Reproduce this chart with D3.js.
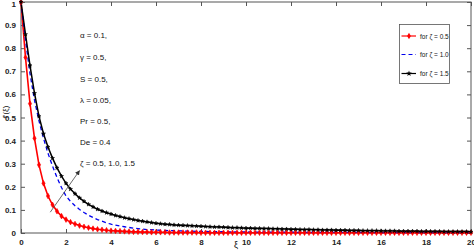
<!DOCTYPE html>
<html><head><meta charset="utf-8">
<script src="https://cdn.jsdelivr.net/npm/d3@7"></script>
<style>body{margin:0;background:#fff}svg{display:block;font-family:Arial,"Liberation Sans",sans-serif}</style>
</head><body>
<script>
const xi = [0,0.2,0.4,0.6,0.8,1,1.2,1.4,1.6,1.8,2,2.2,2.4,2.6,2.8,3,3.2,3.4,3.6,3.8,4,4.2,4.4,4.6,4.8,5,5.2,5.4,5.6,5.8,6,6.2,6.4,6.6,6.8,7,7.2,7.4,7.6,7.8,8,8.2,8.4,8.6,8.8,9,9.2,9.4,9.6,9.8,10,10.2,10.4,10.6,10.8,11,11.2,11.4,11.6,11.8,12,12.2,12.4,12.6,12.8,13,13.2,13.4,13.6,13.8,14,14.2,14.4,14.6,14.8,15,15.2,15.4,15.6,15.8,16,16.2,16.4,16.6,16.8,17,17.2,17.4,17.6,17.8,18,18.2,18.4,18.6,18.8,19,19.2,19.4,19.6,19.8,20];
const zeta05 = [1.000,0.760,0.560,0.410,0.295,0.215,0.160,0.122,0.094,0.073,0.058,0.047,0.039,0.032,0.027,0.023,0.019,0.016,0.014,0.012,0.010,
 0.009,0.008,0.007,0.006,0.005,0.005,0.004,0.004,0.003,0.003,0.003,0.003,0.002,0.002,0.002,0.002,0.002,0.002,0.002,0.001,
 0.001,0.001,0.001,0.001,0.001,0.001,0.001,0.001,0.001,0.001,0.001,0.001,0.001,0.001,0.001,0.001,0.001,0.001,0.001,0.001,
 0.001,0.001,0.001,0.001,0.001,0.001,0.001,0.001,0.001,0.001,0.001,0.001,0.001,0.001,0.001,0.001,0.001,0.001,0.001,0.001,
 0.001,0.001,0.001,0.001,0.001,0.001,0.001,0.001,0.001,0.001,0.001,0.001,0.001,0.001,0.001,0.001,0.001,0.001,0.001,0.001];
const zeta10 = [1.000,0.835,0.690,0.575,0.485,0.410,0.345,0.290,0.240,0.197,0.160,0.137,0.118,0.102,0.089,0.077,0.067,0.058,0.051,0.044,0.038,
 0.034,0.030,0.027,0.024,0.021,0.019,0.017,0.015,0.014,0.013,0.012,0.011,0.010,0.010,0.009,0.009,0.008,0.008,0.007,0.007,
 0.007,0.006,0.006,0.006,0.006,0.005,0.005,0.005,0.005,0.005,0.004,0.004,0.004,0.004,0.004,0.004,0.004,0.004,0.004,0.004,
 0.003,0.003,0.003,0.003,0.003,0.003,0.003,0.003,0.003,0.003,0.003,0.003,0.003,0.003,0.003,0.002,0.002,0.002,0.002,0.002,
 0.002,0.002,0.002,0.002,0.002,0.002,0.002,0.002,0.002,0.002,0.002,0.002,0.002,0.002,0.002,0.002,0.002,0.002,0.002,0.002];
const zeta15 = [1.000,0.860,0.725,0.605,0.505,0.430,0.372,0.324,0.282,0.246,0.215,0.190,0.170,0.152,0.137,0.124,0.113,0.103,0.095,0.088,0.082,
 0.076,0.071,0.066,0.062,0.058,0.054,0.051,0.048,0.045,0.042,0.040,0.038,0.037,0.035,0.034,0.033,0.032,0.031,0.030,0.029,
 0.028,0.027,0.026,0.026,0.025,0.024,0.023,0.023,0.022,0.021,0.021,0.020,0.020,0.019,0.019,0.018,0.018,0.017,0.017,0.016,
 0.016,0.015,0.015,0.015,0.014,0.014,0.013,0.013,0.013,0.012,0.012,0.012,0.011,0.011,0.011,0.010,0.010,0.010,0.010,0.009,
 0.009,0.009,0.009,0.008,0.008,0.008,0.008,0.008,0.007,0.007,0.007,0.007,0.007,0.006,0.006,0.006,0.006,0.006,0.006,0.005];
const xTicks = [0,2,4,6,8,10,12,14,16,18,20];
const yTicks = [0,0.1,0.2,0.3,0.4,0.5,0.6,0.7,0.8,0.9,1];
const legendLabels = ["for ζ = 0.5","for ζ = 1.0","for ζ = 1.5"];
const paramLabels = ["α = 0.1,","γ = 0.5,","S = 0.5,","λ = 0.05,","Pr = 0.5,","De = 0.4","ζ = 0.5, 1.0, 1.5"];

const W=474,H=250, L=21,R=471,T=2,B=233;
const svg=d3.select("body").append("svg").attr("width",W).attr("height",H);
const x=d3.scaleLinear().domain([0,20]).range([L,R]);
const y=d3.scaleLinear().domain([0,1]).range([B,T]);

svg.append("rect").attr("x",L).attr("y",T).attr("width",R-L).attr("height",B-T)
  .attr("fill","none").attr("stroke","#555").attr("stroke-width",1);

const gx=svg.append("g").attr("transform",`translate(0,${B})`)
  .call(d3.axisBottom(x).tickValues(xTicks).tickSize(-4).tickPadding(6).tickFormat(d3.format("d")));
const gxt=svg.append("g").attr("transform",`translate(0,${T})`)
  .call(d3.axisTop(x).tickValues(xTicks).tickSize(-4).tickFormat(""));
const gy=svg.append("g").attr("transform",`translate(${L},0)`)
  .call(d3.axisLeft(y).tickValues(yTicks).tickSize(-4).tickPadding(5).tickFormat(d=>d===0?"0":d===1?"1":d3.format(".1f")(d)));
const gyr=svg.append("g").attr("transform",`translate(${R},0)`)
  .call(d3.axisRight(y).tickValues(yTicks).tickSize(-4).tickFormat(""));
[gx,gxt,gy,gyr].forEach(g=>{g.select(".domain").remove();g.selectAll("line").attr("stroke","#555");
  g.selectAll("text").attr("font-size",8).attr("fill","#222").attr("font-weight","bold");});
gy.selectAll(".tick").filter(d=>d===1).select("text").attr("dy","0.5em");

const line=d3.line().x((d,i)=>x(xi[i])).y(d=>y(d));
const series=[
 {v:zeta05,c:"#ff0000",w:1.6,dash:null,m:"diamond"},
 {v:zeta10,c:"#0000ee",w:1.3,dash:"4,3",m:null},
 {v:zeta15,c:"#000000",w:1.5,dash:null,m:"star"}];

series.forEach(s=>{
  svg.append("path").datum(s.v).attr("d",line).attr("fill","none").attr("stroke",s.c)
    .attr("stroke-width",s.w).attr("stroke-dasharray",s.dash);
});
svg.append("g").selectAll("path").data(zeta05).join("path")
  .attr("transform",(d,i)=>`translate(${x(xi[i])},${y(d)})`)
  .attr("d",d3.symbol(d3.symbolDiamond,9)).attr("fill","#ff0000").attr("stroke","#ff0000").attr("stroke-width",0.6);
svg.append("g").selectAll("path").data(zeta15).join("path")
  .attr("transform",(d,i)=>`translate(${x(xi[i])},${y(d)})`)
  .attr("d",d3.symbol(d3.symbolStar,5)).attr("fill","#000").attr("stroke","#000").attr("stroke-width",0.5);

const py=[38,60,82,103,124,145,166];
svg.append("g").selectAll("text").data(paramLabels).join("text")
  .attr("x",80).attr("y",(d,i)=>py[i]).attr("font-size",8).attr("fill","#111").text(d=>d);

svg.append("defs").append("marker").attr("id","ah").attr("viewBox","0 0 10 10").attr("refX",9).attr("refY",5)
  .attr("markerWidth",6).attr("markerHeight",6).attr("orient","auto")
  .append("path").attr("d","M0,0L10,5L0,10z").attr("fill","#333");
svg.append("line").attr("x1",x(1.3)).attr("y1",y(0.09)).attr("x2",x(2.6)).attr("y2",y(0.27))
  .attr("stroke","#444").attr("stroke-width",0.8).attr("marker-end","url(#ah)");

const lg=svg.append("g");
lg.append("rect").attr("x",399.5).attr("y",24.5).attr("width",50).attr("height",59).attr("fill","#fff").attr("stroke","#555").attr("stroke-width",0.8);
const ly=[36,54.5,73.5];
legendLabels.forEach((t,i)=>{
  const s=series[i];
  lg.append("line").attr("x1",401.5).attr("x2",416).attr("y1",ly[i]).attr("y2",ly[i]).attr("stroke",s.c)
    .attr("stroke-width",1.2).attr("stroke-dasharray",s.dash);
  if(s.m==="diamond") lg.append("path").attr("transform",`translate(409,${ly[i]})`).attr("d",d3.symbol(d3.symbolDiamond,12)).attr("fill",s.c);
  if(s.m==="star") lg.append("path").attr("transform",`translate(409,${ly[i]})`).attr("d",d3.symbol(d3.symbolStar,10)).attr("fill",s.c);
  lg.append("text").attr("x",420).attr("y",ly[i]+2.5).attr("font-size",6.5).attr("fill","#111").text(t);
});

svg.append("text").attr("transform","translate(8,112) rotate(-90)").attr("text-anchor","middle")
  .attr("font-size",8).attr("fill","#111").text("f'(ξ)");
svg.append("text").attr("x",236).attr("y",248).attr("text-anchor","middle").attr("font-size",9).attr("fill","#111").text("ξ");
</script>
</body></html>
